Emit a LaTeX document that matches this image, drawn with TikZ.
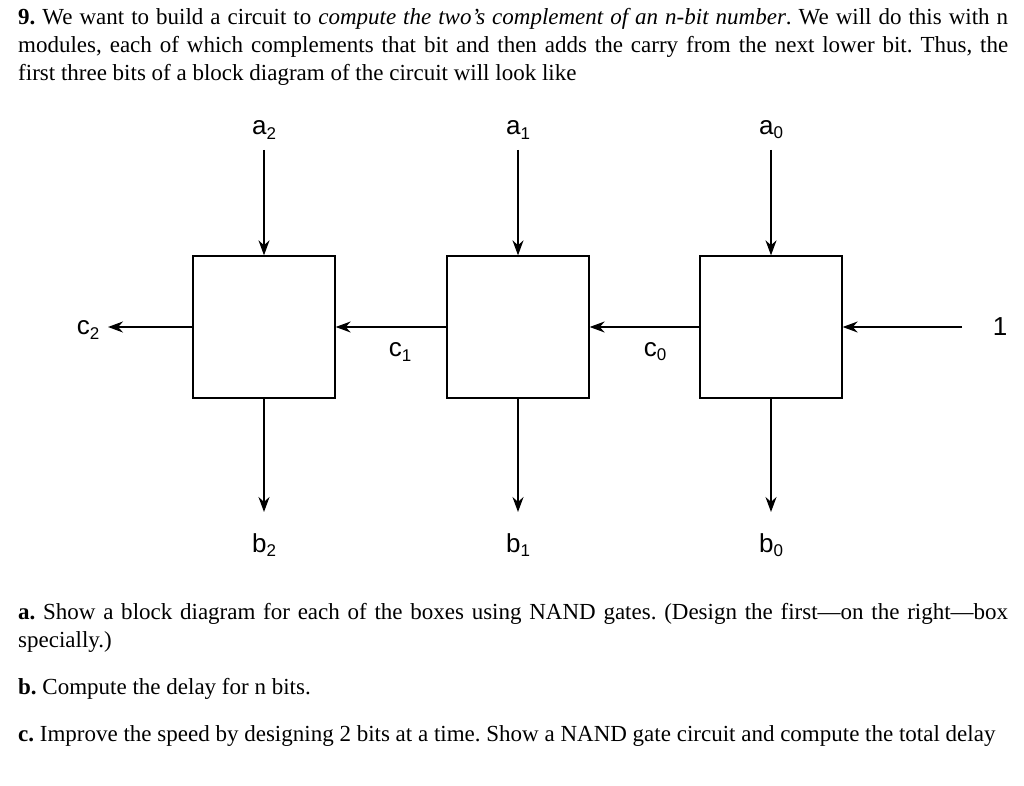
\documentclass[tikz,border=0pt]{standalone}
\usepackage{fontspec}
\setmainfont{Liberation Serif}
\newfontfamily\lab{Liberation Sans}
\usetikzlibrary{arrows.meta}
\newcommand{\sublab}[2]{#1\raisebox{-0.3ex}{\fontsize{17}{17}\selectfont #2}}
\begin{document}
\frenchspacing
\begin{tikzpicture}[x=1pt,y=-1pt,
  box/.style={draw,line width=1.3pt,minimum size=142pt,inner sep=0pt},
  arr/.style={line width=1.6pt,-{Stealth[length=15pt,width=11pt]}},
  lbl/.style={font=\lab\fontsize{26}{26}\selectfont},
  txt/.style={anchor=north west,inner sep=0pt,font=\fontsize{23}{28}\selectfont}]
\useasboundingbox (0,0) rectangle (1024,786);
\node[txt,text width=990pt,align=justify] (p1) at (18,8) {\textbf{9.} We want to build a circuit to \textit{compute the two's complement of an n-bit number}. We will do this with n\linebreak modules, each of which complements that bit and then adds the carry from the next lower bit. Thus, the\linebreak first three bits of a block diagram of the circuit will look like};
\node[box] (B2) at (264,327) {};
\node[box] (B1) at (518,327) {};
\node[box] (B0) at (771,327) {};
\node[lbl] (a2) at (264,130) {\sublab{a}{2}};
\node[lbl] (a1) at (518,130) {\sublab{a}{1}};
\node[lbl] (a0) at (771,130) {\sublab{a}{0}};
\node[lbl] (b2) at (264,545) {\sublab{b}{2}};
\node[lbl] (b1) at (518,545) {\sublab{b}{1}};
\node[lbl] (b0) at (771,545) {\sublab{b}{0}};
\node[lbl] (c2) at (88,330) {\sublab{c}{2}};
\node[lbl] (c1) at (400,352) {\sublab{c}{1}};
\node[lbl] (c0) at (655,352) {\sublab{c}{0}};
\node[lbl] (one) at (1000,327) {1};
\coordinate (i2) at (264,150); \coordinate (i1) at (518,150); \coordinate (i0) at (771,150);
\coordinate (o2) at (264,512); \coordinate (o1) at (518,512); \coordinate (o0) at (771,512);
\coordinate (cs) at (962,327); \coordinate (ce) at (108,327);
\draw[arr] (i2) -- (B2.north); \draw[arr] (i1) -- (B1.north); \draw[arr] (i0) -- (B0.north);
\draw[arr] (B2.south) -- (o2); \draw[arr] (B1.south) -- (o1); \draw[arr] (B0.south) -- (o0);
\draw[arr] (cs) -- (B0.east); \draw[arr] (B0.west) -- (B1.east);
\draw[arr] (B1.west) -- (B2.east); \draw[arr] (B2.west) -- (ce);
\node[txt,text width=990pt,align=justify] (pa) at (18,603) {\textbf{a.} Show a block diagram for each of the boxes using NAND gates. (Design the first---on the right---box\linebreak specially.)};
\node[txt] (pb) at (18,678) {\textbf{b.} Compute the delay for n bits.};
\node[txt] (pc) at (18,725) {\textbf{c.} Improve the speed by designing 2 bits at a time. Show a NAND gate circuit and compute the total delay};
\end{tikzpicture}
\end{document}
